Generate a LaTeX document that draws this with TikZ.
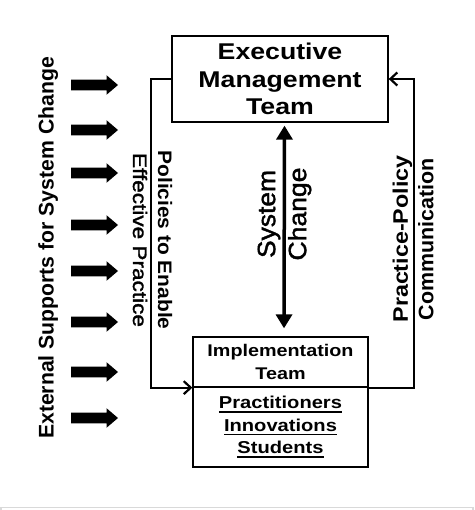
\documentclass[tikz,border=0pt]{standalone}
\usepackage{fontspec}
\setmainfont{Liberation Sans}
\newfontfamily\hfont{Liberation Sans}[FakeStretch=1.17]
\newfontfamily\medfont{Liberation Sans}[FakeBold=1.5]
\usetikzlibrary{arrows.meta}
\newcommand\fitw[2]{\resizebox{#1pt}{\height}{#2}}
\newsavebox\ulbox
\newcommand\ulin[1]{\sbox\ulbox{#1}\rlap{\rule[-4pt]{\wd\ulbox}{1.6pt}}\usebox\ulbox}
\begin{document}
\begin{tikzpicture}[x=1pt,y=-1pt,
  box/.style={draw, line width=1.3pt, inner sep=0pt, align=center},
  conn/.style={line width=2.2pt, -{Straight Barb[length=7pt,width=13pt]}},
  dbl/.style={line width=3.5pt, {Triangle[length=14pt,width=16pt]}-{Triangle[length=14pt,width=16pt]}},
  vtext/.style={align=center}]
\useasboundingbox (0,0) rectangle (474,510);

% boxes
\node[box, minimum width=216pt, minimum height=86pt,
      font=\hfont\bfseries\fontsize{22.8}{27.5}\selectfont] (exec) at (280,79)
      {Executive\\Management\\Team};
\node[box, minimum width=175pt, minimum height=50pt,
      font=\hfont\bfseries\fontsize{16.9}{23}\selectfont] (implT) at (280.5,362)
      {Implementation\\Team};
\node[box, minimum width=175pt, minimum height=80pt,
      font=\hfont\bfseries\fontsize{17.2}{22.5}\selectfont] (implB) at (280.5,427)
      {\ulin{Practitioners}\\\ulin{Innovations}\\\ulin{Students}};

% connectors
\draw[conn] (exec.west) -- ++(-20,0) |- (implT.south west);
\draw[conn] (implT.south east) -- ++(45,0) |- (exec.east);
\draw[dbl] ([xshift=4.5pt,yshift=-3pt]exec.south) -- ([xshift=3.5pt,yshift=8pt]implT.north);

% block arrows
\foreach \y in {85,130,173,225,271,322,372,418}{
  \fill (71,\y-5.3) -- (106.5,\y-5.3) -- (106.5,\y-9.8) -- (118,\y)
        -- (106.5,\y+9.8) -- (106.5,\y+5.3) -- (71,\y+5.3) -- cycle;
}

% rotated labels
\node[rotate=90, anchor=base, font=\bfseries\fontsize{21.2}{25}\selectfont] (ext) at (53.7,248)
  {External Supports for System Change};
\node[vtext, rotate=-90, font=\fontsize{19.5}{25}\selectfont] (pol) at (152.5,240)
  {\fitw{179}{\bfseries Policies to Enable}\\\fitw{174}{\medfont Effective Practice}};
\node[vtext, rotate=90, font=\medfont\fontsize{25}{31}\selectfont] (sys) at (284.5,214)
  {\fitw{88}{System}\\\fitw{93}{Change}};
\node[vtext, rotate=90, font=\bfseries\fontsize{21}{25.5}\selectfont] (ppc) at (413,239)
  {\fitw{167}{Practice-Policy}\\\fitw{162}{Communication}};

% bottom frame edge
\draw[gray!30, line width=1.5pt] (1,510) -- (1,507.5) -- (473,507.5) -- (473,510);
\end{tikzpicture}
\end{document}
